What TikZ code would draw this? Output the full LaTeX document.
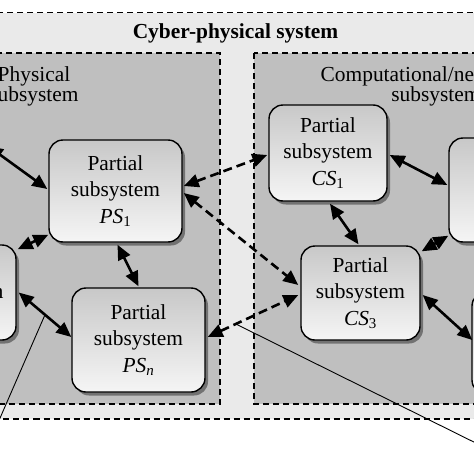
\documentclass[tikz,border=0pt]{standalone}
\usepackage{fontspec}
\setmainfont{Liberation Serif}
\usetikzlibrary{arrows.meta,shadows,calc}
\definecolor{outerbg}{HTML}{EAEAEA}
\definecolor{innerbg}{HTML}{BFBFBF}
\definecolor{nodetop}{HTML}{C8C8C8}
\definecolor{nodebot}{HTML}{F5F5F5}
\newcommand\mynodefont{\fontsize{21.4}{26.5}\selectfont}
\newcommand\mylabelfont{\fontsize{21.4}{19}\selectfont}
\begin{document}
\begin{tikzpicture}[x=1pt,y=-1pt,
  frame/.style={draw=black, line width=1.3pt, dash pattern=on 6pt off 4pt},
  psbox/.style={draw=black, line width=1.4pt, rounded corners=14pt,
    top color=nodetop, bottom color=nodebot,
    drop shadow={shadow xshift=3pt, shadow yshift=-3.5pt, fill=black, opacity=0.4},
    align=center, font=\mynodefont, inner sep=0pt},
  link/.style={line width=2.6pt, {Triangle[length=15pt,width=13pt]}-{Triangle[length=15pt,width=13pt]}},
  dlink/.style={link, dash pattern=on 9pt off 5pt},
  callout/.style={line width=0.9pt}]
\useasboundingbox (0,0) rectangle (474,474);
\clip (0,0) rectangle (474,474);
% frames
\path[frame, fill=outerbg] (-20,12.5) rectangle (500,419);
\path[frame, fill=innerbg] (-20,53) rectangle (220,404);
\path[frame, fill=innerbg] (254,53) rectangle (500,404);
% labels
\node[font=\bfseries\mynodefont, anchor=base, inner sep=0pt] (title) at (235.5,38) {Cyber-physical system};
\node[font=\mylabelfont, align=center, anchor=north, inner sep=0pt] (physlab) at (34,66) {Physical\\subsystem};
\node[font=\mylabelfont, align=center, anchor=north, inner sep=0pt] (complab) at (436,66) {Computational/networking\\subsystem};
% nodes
\node[psbox, minimum width=133pt, minimum height=102pt] (PS1) at (115.5,191) {Partial\\subsystem\\\textit{PS}\textsubscript{1}};
\node[psbox, minimum width=133pt, minimum height=104pt] (PSn) at (138.5,340) {Partial\\subsystem\\\textit{PS}\textsubscript{\textit{n}}};
\node[psbox, minimum width=114pt, minimum height=95pt] (L) at (-41,292.5) {Partial\\subsystem\\\textit{PS}\textsubscript{2}};
\node[psbox, minimum width=118pt, minimum height=96pt] (CS1) at (328,153) {Partial\\subsystem\\\textit{CS}\textsubscript{1}};
\node[psbox, minimum width=119pt, minimum height=94pt] (CS3) at (360.5,293) {Partial\\subsystem\\\textit{CS}\textsubscript{3}};
\node[psbox, minimum width=149pt, minimum height=104pt] (R1) at (523.5,190) {Partial\\subsystem\\\textit{CS}\textsubscript{2}};
\node[psbox, minimum width=133pt, minimum height=102pt] (R2) at (538.5,343) {Partial\\subsystem\\\textit{CS}\textsubscript{4}};
\coordinate (tl) at (-12,146);
\coordinate (c1end) at (-3,425);
\coordinate (c2end) at (500,455);
% solid links
\draw[link] (tl) -- ($(PS1.west)+(-1,-2)$);
\draw[link] ($(PS1.south west)+(0,-8)$) -- ($(L.north east)+(1,5)$);
\draw[link] ($(PS1.south)+(2,2)$) -- ($(PSn.north)+(0,-1)$);
\draw[link] ($(L.east)+(2,0)$) -- coordinate[pos=0.5] (c1) ($(PSn.west)+(0,-3)$);
\draw[link] ($(CS1.south)+(2,2)$) -- ($(CS3.north)+(-2,-1)$);
\draw[link] ($(CS1.east)+(2,2)$) -- ($(R1.west)+(-1,-5)$);
\draw[link] ($(CS3.north east)+(1,6)$) -- ($(R1.south west)+(0,-7)$);
\draw[link] ($(CS3.east)+(2,2)$) -- ($(R2.west)+(1,-3)$);
% dashed links
\draw[dlink] ($(PS1.east)+(1,-5)$) -- ($(CS1.west)+(-1,2)$);
\draw[dlink] ($(PS1.east)+(1,2)$) -- ($(CS3.west)+(-2,-8)$);
\draw[dlink] ($(PSn.east)+(2,-3)$) -- coordinate[pos=0.31] (c2) ($(CS3.west)+(-2,2)$);
% callout lines
\draw[callout] (c1) -- (c1end);
\draw[callout] (c2) -- (c2end);
\end{tikzpicture}
\end{document}
